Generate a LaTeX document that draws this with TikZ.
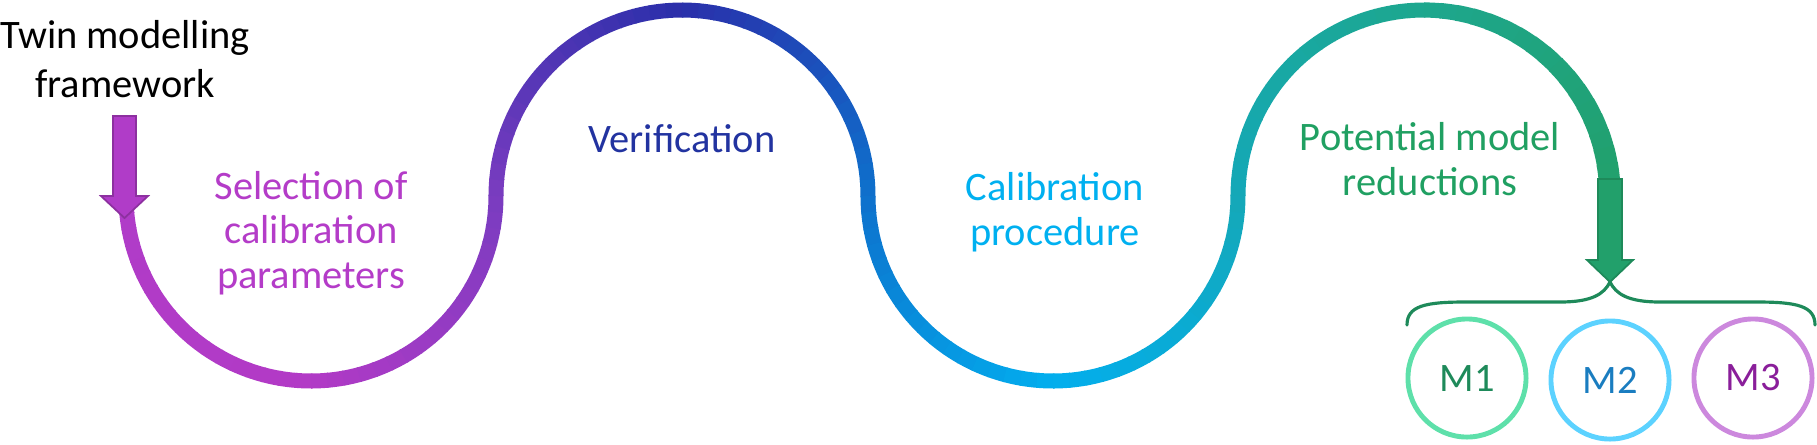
\documentclass[tikz,border=0pt]{standalone}
\usepackage{fontspec}
\usepackage{xcolor}
\usepackage{tikz}
\newfontfamily\labelfont{Carlito}
\definecolor{pathA}{HTML}{B03CC8}
\definecolor{pathB}{HTML}{B23AC6}
\definecolor{pathC}{HTML}{7A3CC0}
\definecolor{pathD}{HTML}{2A2FAA}
\definecolor{pathE}{HTML}{0E70CC}
\definecolor{pathF}{HTML}{02AEEE}
\definecolor{pathG}{HTML}{14A8B8}
\definecolor{pathH}{HTML}{1DA78E}
\definecolor{pathI}{HTML}{22A06B}
\definecolor{selText}{HTML}{B43CC8}
\definecolor{verText}{HTML}{2233A0}
\definecolor{calText}{HTML}{00B0F0}
\definecolor{potText}{HTML}{20A062}
\definecolor{forkLine}{HTML}{1E8A5A}
\definecolor{mOneRing}{HTML}{5EE0AA}
\definecolor{mOneText}{HTML}{1E8A5A}
\definecolor{mTwoRing}{HTML}{5CD2FF}
\definecolor{mTwoText}{HTML}{1A7DC0}
\definecolor{mThreeRing}{HTML}{CC88DD}
\definecolor{mThreeText}{HTML}{8A1E9A}

\begin{document}
\begin{tikzpicture}[
    x=0.01cm,
    y=0.01cm,
    phase/.style={
        font=\labelfont\fontsize{11.5pt}{12.6pt}\selectfont,
        align=center,
        inner sep=0pt,
        anchor=base
    },
    model/.style={
        circle,
        draw,
        line width=1.4pt,
        minimum size=1.18cm,
        inner sep=0pt,
        font=\labelfont\fontsize{11.5pt}{13pt}\selectfont
    },
    blockarrow/.style={
        line width=0.5pt,
        line join=miter
    },
    fork/.style={
        draw=forkLine,
        line width=0.9pt,
        line cap=round
    }
]
\useasboundingbox (0,0) rectangle (1817,444);

\foreach \cx/\r/\sa/\ea/\ca/\cb/\wa/\wb in {
    311/185/180/270/pathA/pathB/15/15,
    311/185/270/360/pathB/pathC/15/15,
    682/186/180/90/pathC/pathD/15/15,
    682/186/90/0/pathD/pathE/15/15,
    1053/185/180/270/pathE/pathF/15/15,
    1053/185/270/360/pathF/pathG/15/15,
    1424/186/180/90/pathG/pathH/15/15,
    1424/186/90/0/pathH/pathI/15/22}
{
    \foreach \i in {0,...,17} {
        \pgfmathsetmacro\a{\sa+(\ea-\sa)*\i/18}
        \pgfmathsetmacro\b{\sa+(\ea-\sa)*(\i+1.08)/18}
        \pgfmathtruncatemacro\mix{100-100*(\i+0.5)/18}
        \pgfmathsetmacro\lw{0.28453*(\wa+(\wb-\wa)*(\i+0.5)/18)}
        \draw[line width=\lw pt, \ca!\mix!\cb]
            ([shift={(\a:\r)}]\cx,248) arc[start angle=\a, end angle=\b, radius=\r];
    }
}

\draw[blockarrow, draw=pathA!80!black, fill=pathA]
    (113,328) -- (136,328) -- (136,248) -- (148,248) -- (124.5,226)
    -- (101,248) -- (113,248) -- cycle;
\draw[blockarrow, draw=forkLine, fill=pathI]
    (1598,265) -- (1622,265) -- (1622,184) -- (1633,184) -- (1610,162)
    -- (1587,184) -- (1598,184) -- cycle;

\node[phase, font=\labelfont\fontsize{11.5pt}{13.9pt}\selectfont] (twin) at (125,347)
{Twin modelling\\
framework};
\node[phase, text=selText] (sel) at (311,156)
{Selection of\\
calibration\\
parameters};
\node[phase, text=verText] (ver) at (682,292)
{Verification};
\node[phase, text=calText] (cal) at (1055,199)
{Calibration\\
procedure};
\node[phase, text=potText] (pot) at (1430,249)
{Potential model\\
reductions};

\node[model, draw=mOneRing, text=mOneText] (m1) at (1467,66) {M1};
\node[model, draw=mTwoRing, text=mTwoText] (m2) at (1610,64) {M2};
\node[model, draw=mThreeRing, text=mThreeText] (m3) at (1753,66) {M3};

\coordinate (tip) at (1610,162);
\coordinate (forkL) at (1407,119);
\coordinate (forkR) at (1815,119);
\draw[fork] (forkL) .. controls (1407,138) and (1425,142) .. (1465,142)
    -- (1560,142) .. controls (1592,142) and (1604,150) .. (tip);
\draw[fork] (forkR) .. controls (1815,138) and (1797,142) .. (1757,142)
    -- (1660,142) .. controls (1628,142) and (1616,150) .. (tip);
\end{tikzpicture}
\end{document}
